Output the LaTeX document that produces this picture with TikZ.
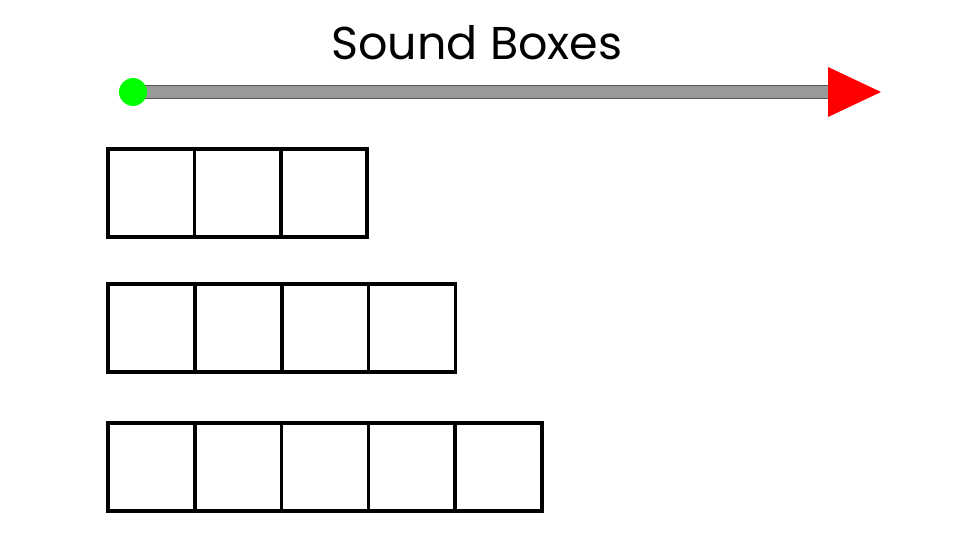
\documentclass[tikz,border=0pt]{standalone}
\usepackage{fontspec}
\setmainfont{Poppins}
\definecolor{barfill}{HTML}{999999}
\definecolor{barline}{HTML}{555555}
\definecolor{dotgreen}{HTML}{00FF00}
\definecolor{tipred}{HTML}{FF0000}
\tikzset{
  cell/.style={draw=black, line width=3.4pt, minimum width=86.7pt, minimum height=88pt, inner sep=0pt, outer sep=0pt, anchor=north west},
  dot/.style={circle, fill=dotgreen, minimum size=28pt, inner sep=0pt},
  title/.style={font=\fontsize{46}{54}\selectfont, inner sep=0pt}
}
\begin{document}
\begin{tikzpicture}[x=1pt,y=-1pt]
\useasboundingbox (0,0) rectangle (960,540);
\node[title] (ttl) at (477,43) {Sound Boxes};
\coordinate (tipbase) at (828,92);
\draw[line width=1pt, draw=barline, double=barfill, double distance=12pt] (133,92) -- (tipbase);
\fill[tipred] (828,67) -- (881,92) -- (828,117) -- cycle;
\node[dot] (start) at (133,92) {};
% row 1
\foreach \i in {0,1,2} {
  \node[cell] (a\i) at ({108+86.2*\i},149) {};
}
% row 2
\foreach \i in {0,1,2,3} {
  \node[cell] (b\i) at ({108+86.9*\i},284) {};
}
% row 3
\foreach \i in {0,1,2,3,4} {
  \node[cell] (c\i) at ({108+86.8*\i},423) {};
}
\end{tikzpicture}
\end{document}
